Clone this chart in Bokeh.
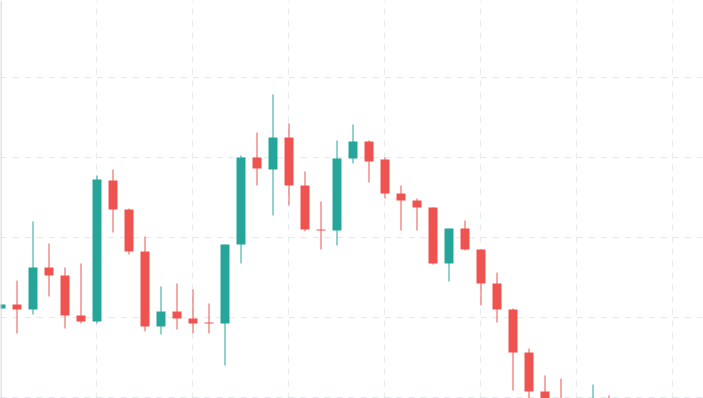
from bokeh.plotting import figure
from bokeh.models import Range1d, FixedTicker, Span, ColumnDataSource
from bokeh.embed import file_html
from bokeh.resources import INLINE

# ---- data ----
opens = [111.06, 111.56, 110.94, 116.19, 115.19, 110.19, 109.44, 127.06, 123.44, 118.19,
         108.81, 110.69, 109.81, 109.31, 109.19, 119.06, 129.94, 128.44, 132.44, 126.44,
         120.94, 120.81, 129.81, 131.94, 129.69, 125.44, 124.56, 123.69, 116.69, 121.06,
         118.44, 114.19, 110.94, 105.56, 100.69, 98.31, 97.06, 94.56, 97.06]
highs = [111.56, 114.56, 121.94, 119.19, 116.19, 116.69, 127.69, 128.44, 123.56, 120.06,
         113.81, 114.19, 113.44, 111.69, 119.06, 130.19, 133.06, 137.81, 134.19, 128.19,
         124.44, 132.06, 134.06, 132.06, 129.94, 126.44, 124.81, 123.69, 121.06, 122.06,
         118.44, 115.56, 111.06, 106.06, 102.69, 102.31, 98.94, 101.56, 100.19]
lows = [111.06, 107.94, 110.31, 112.56, 108.56, 109.19, 109.19, 120.56, 117.81, 108.19,
        107.81, 108.44, 107.94, 107.94, 103.94, 116.69, 126.44, 122.69, 123.94, 120.69,
        118.44, 118.94, 129.19, 126.81, 124.81, 120.81, 120.81, 116.56, 114.44, 118.31,
        111.44, 109.31, 100.81, 98.94, 97.69, 95.56, 94.56, 93.94, 94.56]
closes = [111.56, 110.94, 116.19, 115.19, 110.19, 109.44, 127.19, 123.44, 118.19, 108.81,
          110.69, 109.81, 109.19, 109.19, 119.06, 129.94, 128.56, 132.44, 126.44, 120.94,
          120.81, 129.81, 131.94, 129.44, 125.44, 124.56, 123.69, 116.69, 121.06, 118.44,
          114.19, 110.94, 105.56, 100.69, 98.56, 96.44, 95.19, 97.06, 95.81]
price_grid = [100, 110, 120, 130, 140]
time_grid_idx = [6, 12, 18, 24, 30, 36, 42]

UP = "#26a69a"
DOWN = "#ef5350"
GRID = "#e1ecf2"

idx = list(range(len(opens)))
colors = [UP if c > o else DOWN for o, c in zip(opens, closes)]
tops = [max(o, c) for o, c in zip(opens, closes)]
bots = [min(o, c) for o, c in zip(opens, closes)]
bots = [b if t - b > 0.1 else t - 0.125 for t, b in zip(tops, bots)]

src = ColumnDataSource(dict(x=idx, o=opens, h=highs, l=lows, c=closes,
                            top=tops, bottom=bots, color=colors))

W, H = 703, 398
bar_px = 16.0
x0 = -1.0 / 32
y_top = 149.5625
px_per_unit = 8.0

p = figure(width=W, height=H, output_backend="svg", toolbar_location=None,
           x_range=Range1d(x0, x0 + W / bar_px),
           y_range=Range1d(y_top - H / px_per_unit, y_top),
           min_border=0)
p.background_fill_color = "white"
p.border_fill_color = "white"
p.outline_line_color = None
p.xaxis.visible = False
p.yaxis.visible = False

p.xgrid.ticker = FixedTicker(ticks=[i - 1.0 / bar_px for i in time_grid_idx])
p.ygrid.ticker = FixedTicker(ticks=price_grid)
for g in (p.xgrid, p.ygrid):
    g.grid_line_color = GRID
    g.grid_line_width = 1
    g.grid_line_dash = "6 6"

p.segment(x0="x", y0="h", x1="x", y1="l", line_color="color", line_width=1, source=src)
p.vbar(x="x", width=9.0 / bar_px, top="top", bottom="bottom",
       fill_color="color", line_color=None, source=src)

p.add_layout(Span(location=0, dimension="height", line_color="#c8c8c8", line_width=1))

open("out.html", "w").write(file_html(p, INLINE))
